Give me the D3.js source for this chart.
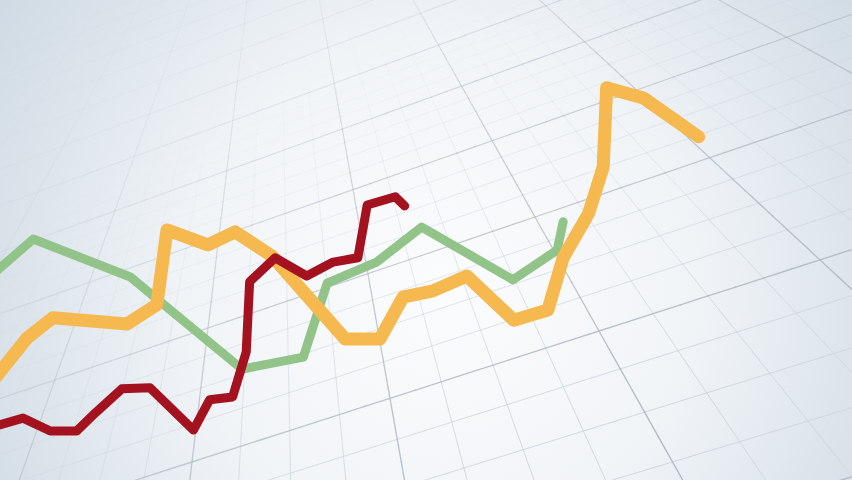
<!DOCTYPE html>
<html>
<head>
<meta charset="utf-8">
<script src="https://cdn.jsdelivr.net/npm/d3@7/dist/d3.min.js"></script>
<style>
html,body{margin:0;padding:0;background:#fff;}
svg{display:block;}
</style>
</head>
<body>
<svg id="chart" width="852" height="480"></svg>
<script>
// ---- data (x: time step, y: value 0..100) ----
const greenX = [-1.0, 3.9, 15.3, 28.4, 35.6, 38.4, 44.2, 49.5, 60.2, 65.4, 66.1];
const greenY = [42.6, 50.2, 42.3, 23.1, 25.6, 41.0, 45.4, 52.7, 41.7, 47.9, 53.8];

const yellowX = [-1.0, 3.2, 6.2, 14.9, 18.4, 19.6, 24.4, 27.6, 31.9, 40.5, 44.6, 47.3, 50.8, 54.8, 60.3, 64.3, 66.1, 69.1, 70.8, 71.2, 75.5, 82.0];
const yellowY = [20.3, 29.6, 33.8, 32.5, 36.5, 52.1, 49.0, 51.7, 46.7, 29.4, 29.4, 38.1, 39.4, 42.5, 33.3, 35.4, 46.3, 55.6, 65.2, 81.7, 79.6, 71.5];

const redX = [-1.0, 2.7, 5.9, 9.0, 11.2, 14.3, 17.6, 22.7, 24.6, 27.3, 28.9, 29.3, 32.3, 36.0, 39.1, 42.0, 43.1, 46.4, 47.5];
const redY = [11.0, 12.9, 10.2, 10.2, 14.0, 19.0, 19.2, 10.4, 16.7, 17.3, 26.7, 41.3, 46.3, 42.5, 45.4, 46.3, 57.3, 59.0, 57.1];

const seriesNames = ["green", "yellow", "red"];

// ---- layout ----
const W = 852, H = 480;
const svg = d3.select("#chart");
const defs = svg.append("defs");

const x = d3.scaleLinear().domain([0, 100]).range([0, W]);
const y = d3.scaleLinear().domain([0, 100]).range([H, 0]);

// background
const bg = defs.append("radialGradient").attr("id", "bg")
  .attr("gradientUnits", "userSpaceOnUse")
  .attr("cx", 440).attr("cy", 290).attr("r", 560);
bg.append("stop").attr("offset", 0).attr("stop-color", "#fbfcfd");
bg.append("stop").attr("offset", 0.45).attr("stop-color", "#f1f4f7");
bg.append("stop").attr("offset", 1).attr("stop-color", "#cad7e1");
svg.append("rect").attr("width", W).attr("height", H).attr("fill", "url(#bg)");

// haze mask toward the upper-left
const mg = defs.append("linearGradient").attr("id", "fade")
  .attr("gradientUnits", "userSpaceOnUse")
  .attr("x1", 620).attr("y1", 440).attr("x2", 80).attr("y2", 0);
mg.append("stop").attr("offset", 0).attr("stop-color", "#fff").attr("stop-opacity", 1);
mg.append("stop").attr("offset", 0.5).attr("stop-color", "#fff").attr("stop-opacity", 0.85);
mg.append("stop").attr("offset", 1).attr("stop-color", "#fff").attr("stop-opacity", 0.12);
defs.append("mask").attr("id", "gridMask")
  .append("rect").attr("width", W).attr("height", H).attr("fill", "url(#fade)");

// ---- perspective plane (homography from 4 grid intersections) ----
function solve(A, b) {
  const n = b.length;
  const M = A.map((r, i) => r.concat([b[i]]));
  for (let c = 0; c < n; c++) {
    let p = c;
    for (let r = c + 1; r < n; r++) if (Math.abs(M[r][c]) > Math.abs(M[p][c])) p = r;
    [M[c], M[p]] = [M[p], M[c]];
    for (let r = 0; r < n; r++) {
      if (r === c) continue;
      const f = M[r][c] / M[c][c];
      for (let k = c; k <= n; k++) M[r][k] -= f * M[c][k];
    }
  }
  return M.map((r, i) => r[n] / r[i]);
}
function homography(src, dst) {
  const A = [], b = [];
  for (let i = 0; i < 4; i++) {
    const [u, v] = src[i], [X, Y] = dst[i];
    A.push([u, v, 1, 0, 0, 0, -u * X, -v * X]); b.push(X);
    A.push([0, 0, 0, u, v, 1, -u * Y, -v * Y]); b.push(Y);
  }
  return solve(A, b);
}
const planeSrc = [[0, 0], [8, 0], [0, 4], [8, 4]];
const planeDst = [[192, 462], [599, 331], [208, 328], [535, 217]];
const h = homography(planeSrc, planeDst);
function project(u, v) {
  const w = h[6] * u + h[7] * v + 1;
  return { w, X: (h[0] * u + h[1] * v + h[2]) / w, Y: (h[3] * u + h[4] * v + h[5]) / w };
}
// inverse: screen -> plane depth w
const Hm = [[h[0], h[1], h[2]], [h[3], h[4], h[5]], [h[6], h[7], 1]];
function inv3(m) {
  const [a, b, c] = m[0], [d, e, f] = m[1], [g, hh, i] = m[2];
  const A = e * i - f * hh, B = -(d * i - f * g), C = d * hh - e * g;
  const det = a * A + b * B + c * C;
  return [
    [A / det, -(b * i - c * hh) / det, (b * f - c * e) / det],
    [B / det, (a * i - c * g) / det, -(a * f - c * d) / det],
    [C / det, -(a * hh - b * g) / det, (a * e - b * d) / det]
  ];
}
const Hi = inv3(Hm);
function depthAt(X, Y) {
  const uu = Hi[0][0] * X + Hi[0][1] * Y + Hi[0][2];
  const vv = Hi[1][0] * X + Hi[1][1] * Y + Hi[1][2];
  const ww = Hi[2][0] * X + Hi[2][1] * Y + Hi[2][2];
  return project(uu / ww, vv / ww).w;
}
const wNear = depthAt(620, 420), wFar = depthAt(330, 10);
const nearness = w => Math.max(0, Math.min(1, (wFar - w) / (wFar - wNear)));

const uMin = -24, uMax = 36, vMin = -12, vMaxMinor = 22, vMaxMajor = 44, step = 0.5;
const segs = [];
function addLine(fixed, isU, major) {
  const vMax = major ? vMaxMajor : vMaxMinor;
  const a0 = isU ? vMin : uMin, a1 = isU ? vMax : uMax;
  for (let t = a0; t < a1; t += step) {
    const p = isU ? project(fixed, t) : project(t, fixed);
    const q = isU ? project(fixed, t + step) : project(t + step, fixed);
    if (p.w <= 0.02 || q.w <= 0.02) continue;
    const mx = (p.X + q.X) / 2, my = (p.Y + q.Y) / 2;
    if (mx < -40 || mx > W + 40 || my < -40 || my > H + 40) continue;
    const n = nearness((p.w + q.w) / 2);
    segs.push({
      x1: p.X, y1: p.Y, x2: q.X, y2: q.Y, major,
      op: major ? 0.28 + 0.72 * n : Math.pow(n, 1.8),
      sw: (major ? 1.25 : 0.9) * (0.75 + 0.35 * n)
    });
  }
}
for (let u = uMin; u <= uMax; u++) addLine(u, true, u % 4 === 0);
for (let v = vMin; v <= vMaxMajor; v++) {
  const major = v % 4 === 0;
  if (!major && v > vMaxMinor) continue;
  addLine(v, false, major);
}
segs.sort((a, b) => a.major - b.major);

svg.append("g").attr("mask", "url(#gridMask)")
  .selectAll("line").data(segs).join("line")
  .attr("x1", d => d.x1).attr("y1", d => d.y1)
  .attr("x2", d => d.x2).attr("y2", d => d.y2)
  .attr("stroke", d => d.major ? "#b3bcc5" : "#cfd7de")
  .attr("stroke-opacity", d => d.op)
  .attr("stroke-width", d => d.sw)
  .attr("stroke-linecap", "round");

// ---- series ----
const series = [
  { name: seriesNames[0], xs: greenX, ys: greenY, color: "#92c48a", width: 9 },
  { name: seriesNames[1], xs: yellowX, ys: yellowY, color: "#f5b94f", width: 13 },
  { name: seriesNames[2], xs: redX, ys: redY, color: "#a3121e", width: 9 }
];
const line = d3.line().x(d => x(d[0])).y(d => y(d[1]));
svg.append("g").selectAll("path.series").data(series).join("path")
  .attr("class", "series")
  .attr("d", s => line(s.xs.map((v, i) => [v, s.ys[i]])))
  .attr("fill", "none")
  .attr("stroke", s => s.color)
  .attr("stroke-width", s => s.width)
  .attr("stroke-linejoin", "round")
  .attr("stroke-linecap", "round");
</script>
</body>
</html>
